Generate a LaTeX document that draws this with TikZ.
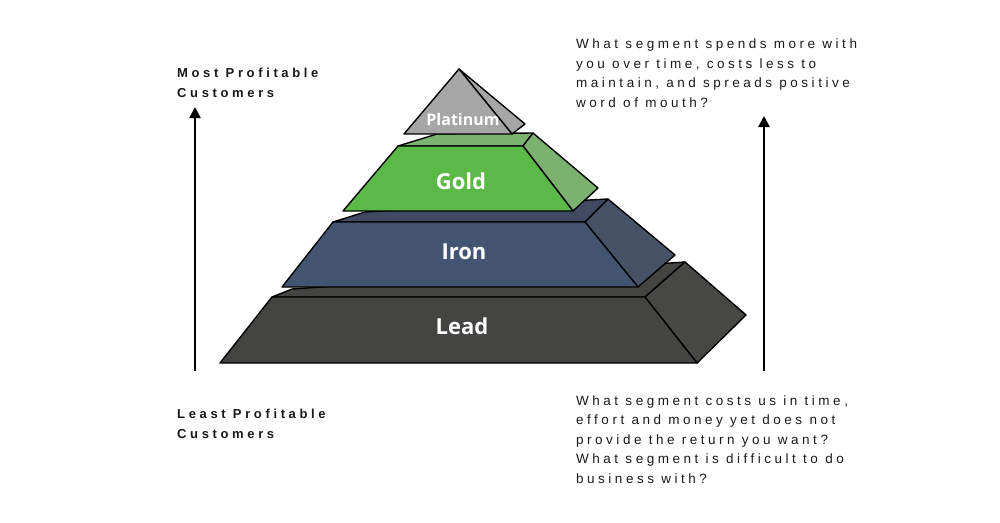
\documentclass[tikz,border=0pt]{standalone}
\usepackage{fontspec}
\usetikzlibrary{arrows.meta}
\setmainfont{Liberation Sans}
\newfontfamily\labelfont{Open Sans}
\newfontfamily\trackfont[LetterSpace=26]{Liberation Sans}
\newfontfamily\trackboldfont[LetterSpace=28]{Liberation Sans Bold}
\definecolor{platc}{HTML}{A6A6A6}
\definecolor{goldf}{HTML}{5BB947}
\definecolor{golds}{HTML}{7BB26F}
\definecolor{ironf}{HTML}{425470}
\definecolor{irons}{HTML}{465266}
\definecolor{ironT}{HTML}{404A62}
\definecolor{leadf}{HTML}{444442}
\definecolor{leads}{HTML}{474744}
\definecolor{txt}{HTML}{1A1A1A}
\tikzset{
  face/.style={draw=black, line width=1.4pt, line join=round},
  tier/.style={text=white, font=\labelfont\bfseries\fontsize{22}{24}\selectfont, inner sep=0pt},
  para/.style={text=txt, font=\trackfont\fontsize{13.5}{19.5}\selectfont, align=left, anchor=base west, inner sep=0pt},
  side/.style={text=black!90, font=\trackboldfont\fontsize{13}{20}\selectfont, align=left, anchor=base west, inner sep=0pt},
  arr/.style={line width=2.3pt, -{Triangle[length=11pt,width=11pt]}}
}
\begin{document}
\begin{tikzpicture}[x=1pt,y=-1pt]
\useasboundingbox (0,0) rectangle (1000,522);
% Lead
\filldraw[face, fill=leadf] (272,297) -- (292,289) -- (685,262) -- (645,297) -- cycle;
\filldraw[face, fill=leads] (645,297) -- (685,262) -- (746,315) -- (697,363) -- cycle;
\filldraw[face, fill=leadf] (220,363) -- (272,297) -- (645,297) -- (697,363) -- cycle;
% Iron
\filldraw[face, fill=ironT] (333,222) -- (365,212) -- (608,199) -- (585,222) -- cycle;
\filldraw[face, fill=irons] (585,222) -- (608,199) -- (675,255) -- (638,287) -- cycle;
\filldraw[face, fill=ironf] (282,287) -- (333,222) -- (585,222) -- (638,287) -- cycle;
% Gold
\filldraw[face, fill=golds] (398,146) -- (437,134) -- (533,133) -- (523,146) -- cycle;
\filldraw[face, fill=golds] (523,146) -- (533,133) -- (598,188) -- (573,211) -- cycle;
\filldraw[face, fill=goldf] (343,211) -- (398,146) -- (523,146) -- (573,211) -- cycle;
% Platinum
\filldraw[face, fill=platc] (459,69) -- (525,124) -- (512,134) -- cycle;
\filldraw[face, fill=platc] (404,134) -- (459,69) -- (512,134) -- cycle;
% tier labels
\node[tier, font=\labelfont\bfseries\fontsize{16}{18}\selectfont] (plat) at (463,119) {Platinum};
\node[tier] (gold) at (461,181) {Gold};
\node[tier] (iron) at (464,252) {Iron};
\node[tier] (lead) at (462,326) {Lead};
% arrows
\coordinate (la0) at (195,371);
\coordinate (la1) at (195,107);
\coordinate (ra0) at (764,371);
\coordinate (ra1) at (764,116);
\draw[arr] (la0) -- (la1);
\draw[arr] (ra0) -- (ra1);
% side labels (anchor = baseline of last line)
\node[side] (most) at (177,97) {Most Profitable\\Customers};
\node[side] (least) at (177,438) {Least Profitable\\Customers};
% questions (anchor = baseline of last line)
\node[para] (qtop) at (576,107) {What segment spends more with\\you over time, costs less to\\maintain, and spreads positive\\word of mouth?};
\node[para] (qbot) at (576,483) {What segment costs us in time,\\effort and money yet does not\\provide the return you want?\\What segment is difficult to do\\business with?};
\end{tikzpicture}
\end{document}
